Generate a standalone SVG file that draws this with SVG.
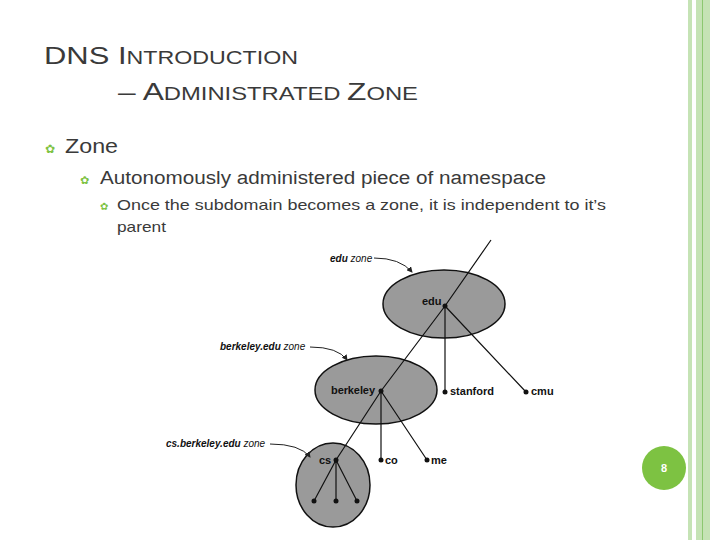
<svg xmlns="http://www.w3.org/2000/svg" width="720" height="540" viewBox="0 0 720 540">
<defs>
<style>
.t{font-family:"Liberation Sans",Arial,sans-serif;fill:#3a3a3a}
.d{font-family:"Liberation Sans",Arial,sans-serif;font-weight:bold;font-size:11px;fill:#111}
.z{font-family:"Liberation Sans",Arial,sans-serif;font-style:italic;font-size:10px;fill:#111}
.e{fill:#9a9a9a;stroke:#111;stroke-width:1.5}
.l{stroke:#111;stroke-width:1.2;fill:none}
.a{stroke:#222;stroke-width:1;fill:none;marker-end:url(#ar)}
</style>
<marker id="ar" markerWidth="6" markerHeight="6" refX="5" refY="3" orient="auto"><path d="M0,0L6,3L0,6z" fill="#222"/></marker>
</defs>
<rect width="720" height="540" fill="#fff"/>
<rect x="688" y="0" width="4" height="540" fill="#c5e3b5"/>
<rect x="696" y="0" width="14" height="540" fill="#c5e3b5"/>
<rect x="702" y="0" width="1" height="540" fill="#8cc870"/>
<g id="title">
<text class="t" x="44" y="64" font-size="24" textLength="254" lengthAdjust="spacingAndGlyphs">DNS I<tspan font-size="18">NTRODUCTION</tspan></text>
<text class="t" x="118" y="100" font-size="24" textLength="300" lengthAdjust="spacingAndGlyphs">– A<tspan font-size="18">DMINISTRATED </tspan>Z<tspan font-size="18">ONE</tspan></text>
</g>
<g id="bullets">
<text x="45" y="153" font-family="DejaVu Sans" font-size="12" fill="#7dc242">✿</text>
<text class="t" x="65" y="153" font-size="21" textLength="53" lengthAdjust="spacingAndGlyphs">Zone</text>
<text x="80" y="184" font-family="DejaVu Sans" font-size="11" fill="#7dc242">✿</text>
<text class="t" x="100" y="184" font-size="18" textLength="446" lengthAdjust="spacingAndGlyphs">Autonomously administered piece of namespace</text>
<text x="100" y="210" font-family="DejaVu Sans" font-size="10" fill="#7dc242">✿</text>
<text class="t" x="117" y="210" font-size="15" textLength="489" lengthAdjust="spacingAndGlyphs">Once the subdomain becomes a zone, it is independent to it’s</text>
<text class="t" x="117" y="232" font-size="15" textLength="49" lengthAdjust="spacingAndGlyphs">parent</text>
</g>
<g id="zones">
<ellipse id="edu-zone" class="e" cx="444" cy="304" rx="61" ry="34"/>
<ellipse id="berkeley-zone" class="e" cx="376" cy="390" rx="61" ry="34"/>
<ellipse id="cs-zone" class="e" cx="333" cy="485" rx="37" ry="42"/>
</g>
<g id="connectors">
<path class="l" d="M491,240L445,306L381,391L336,460"/>
<path class="l" d="M445,306L445,392M445,306L526,392M381,391L381,460M381,391L427,460M336,460L314,501M336,460L336,501M336,460L357,501"/>
<path class="a" d="M374,258Q400,258 412,272"/>
<path class="a" d="M310,347Q338,347 347,360"/>
<path class="a" d="M270,444Q300,444 310,457"/>
</g>
<g id="nodes" fill="#111">
<circle cx="445" cy="306" r="2.5"/><circle cx="381" cy="391" r="2.5"/><circle cx="336" cy="460" r="2.5"/>
<circle cx="445" cy="392" r="2.5"/><circle cx="526" cy="392" r="2.5"/><circle cx="381" cy="460" r="2.5"/><circle cx="427" cy="460" r="2.5"/>
<circle cx="314" cy="501" r="2.5"/><circle cx="336" cy="501" r="2.5"/><circle cx="357" cy="501" r="2.5"/>
</g>
<g id="labels">
<text class="d" x="422" y="305">edu</text>
<text class="d" x="331" y="394" textLength="44">berkeley</text>
<text class="d" x="319" y="464">cs</text>
<text class="d" x="450" y="395">stanford</text>
<text class="d" x="531" y="395">cmu</text>
<text class="d" x="385" y="464">co</text>
<text class="d" x="431" y="464">me</text>
<text class="z" x="330" y="262"><tspan font-weight="bold">edu</tspan> zone</text>
<text class="z" x="220" y="350"><tspan font-weight="bold">berkeley.edu</tspan> zone</text>
<text class="z" x="166" y="447"><tspan font-weight="bold">cs.berkeley.edu</tspan> zone</text>
</g>
<g id="page">
<circle cx="664" cy="468" r="22" fill="#7dc242"/>
<text x="664" y="472" text-anchor="middle" font-family="Liberation Sans,sans-serif" font-weight="bold" font-size="11" fill="#fff">8</text>
</g>
</svg>
